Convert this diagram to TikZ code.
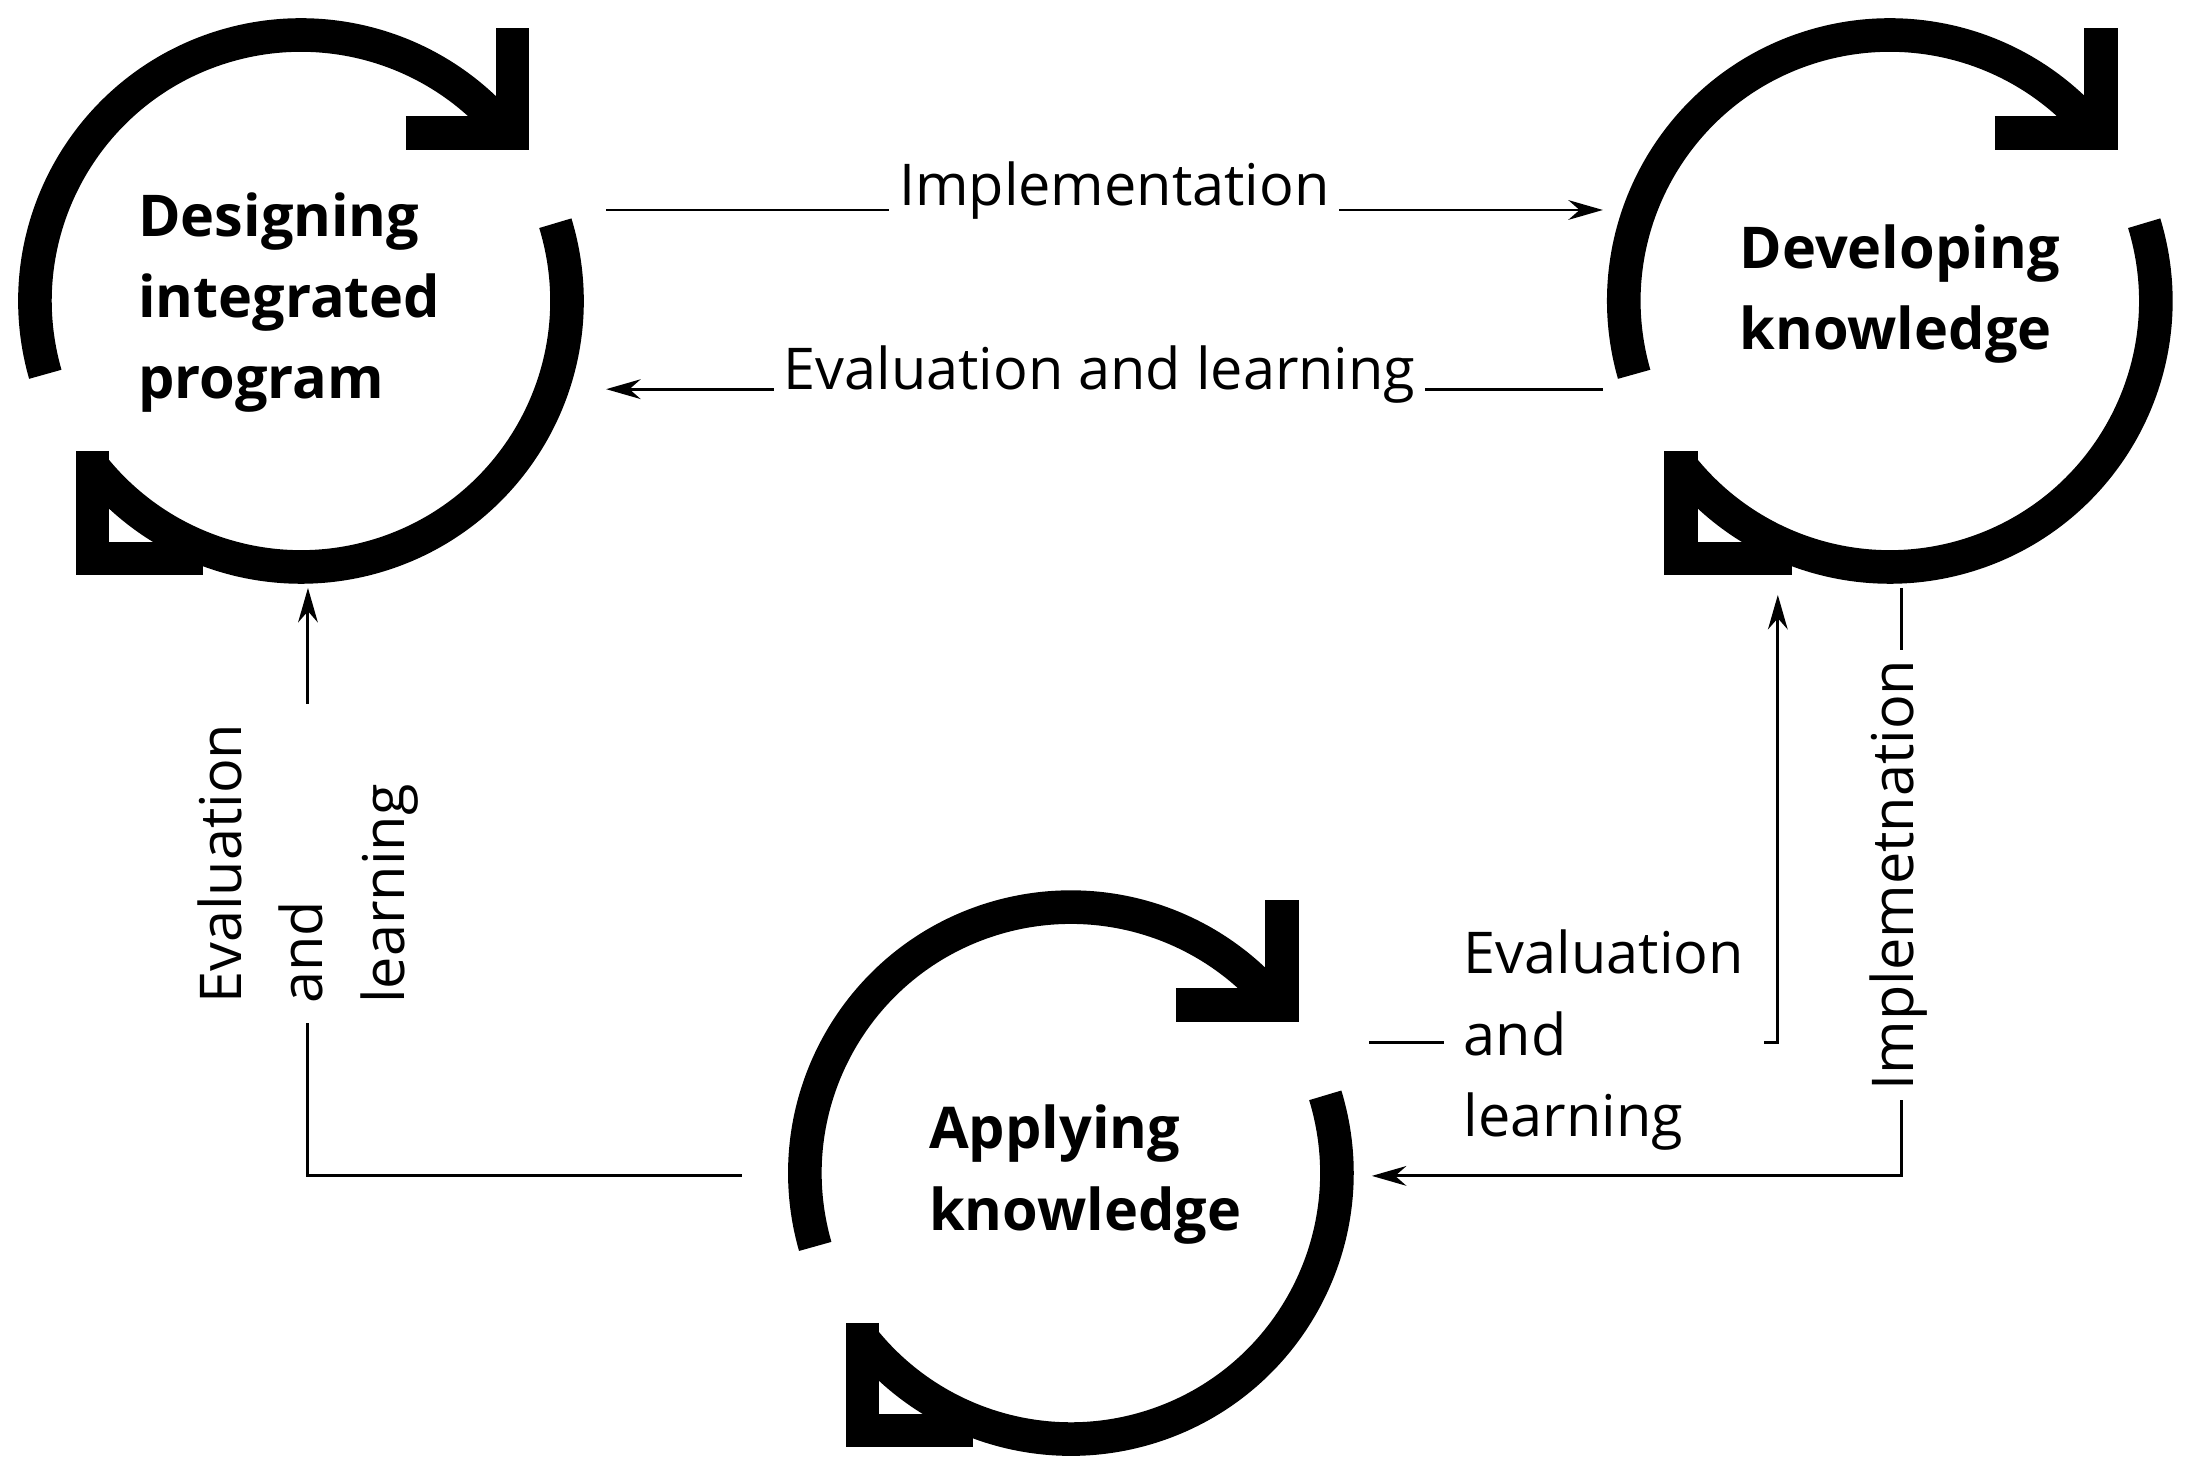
\documentclass[tikz,border=0pt]{standalone}
\usepackage{fontspec}
\setmainfont{Open Sans}
\usetikzlibrary{arrows.meta}
\tikzset{
  ring/.style={line width=0.24cm,line cap=butt},
  chev/.style={line width=0.24cm,line cap=butt,line join=miter},
  title/.style={font=\fontsize{11.7}{16.5}\selectfont\bfseries,align=left,anchor=west,inner sep=0pt},
  lbl/.style={font=\fontsize{11.7}{16.5}\selectfont,fill=white,inner sep=2pt},
  conn/.style={line width=0.6pt,-{Stealth[length=7pt,width=4pt]}},
  pics/cycle/.style={code={
    \draw[ring] (196:190) arc[start angle=196,end angle=41,radius=190];
    \draw[chev] (75,120) -- (151,120) -- (151,195);
    \draw[ring] (17:190) arc[start angle=17,end angle=-142,radius=190];
    \draw[chev] (-149,-107) -- (-149,-184) -- (-70,-184);
  }}
}
\begin{document}
\begin{tikzpicture}[x=0.01cm,y=0.01cm]
\useasboundingbox (0,0) rectangle (1568,-1057);
\pic at (215,-215) {cycle};
\pic at (1350,-215) {cycle};
\pic at (765,-838) {cycle};
\node[title] (d) at (98,-216) {Designing\\integrated\\program};
\node[title] (k) at (1242,-210) {Developing\\knowledge};
\node[title] (a) at (663,-839) {Applying\\knowledge};
% top connectors
\coordinate (i1) at (433,-150); \coordinate (i2) at (1145,-150);
\draw[conn] (i1) -- (i2) node[lbl,midway,xshift=2pt,yshift=4pt] (impl) {Implementation};
\coordinate (e1) at (1145,-278); \coordinate (e2) at (433,-278);
\draw[conn] (e1) -- (e2) node[lbl,pos=0.505,yshift=3pt] (eval) {Evaluation and learning};
% left
\coordinate (l1) at (530,-840); \coordinate (l2) at (220,-840); \coordinate (l3) at (220,-420);
\draw[conn] (l1) -- (l2) -- (l3);
\node[lbl,rotate=90,align=left,inner sep=4pt] (el) at (220,-617) {Evaluation\\and\\learning};
% right
\coordinate (r1) at (1358,-420); \coordinate (r2) at (1358,-840); \coordinate (r3) at (980,-840);
\draw[conn] (r1) -- (r2) -- (r3);
\node[lbl,rotate=90] (im2) at (1356,-625) {Implemetnation};
\coordinate (s1) at (978,-745); \coordinate (s2) at (1270,-745); \coordinate (s3) at (1270,-425);
\draw[conn] (s1) -- (s2) -- (s3);
\node[lbl,align=left,anchor=west,inner sep=4pt] (er) at (1031,-743) {Evaluation\\and\\learning};
\end{tikzpicture}
\end{document}
